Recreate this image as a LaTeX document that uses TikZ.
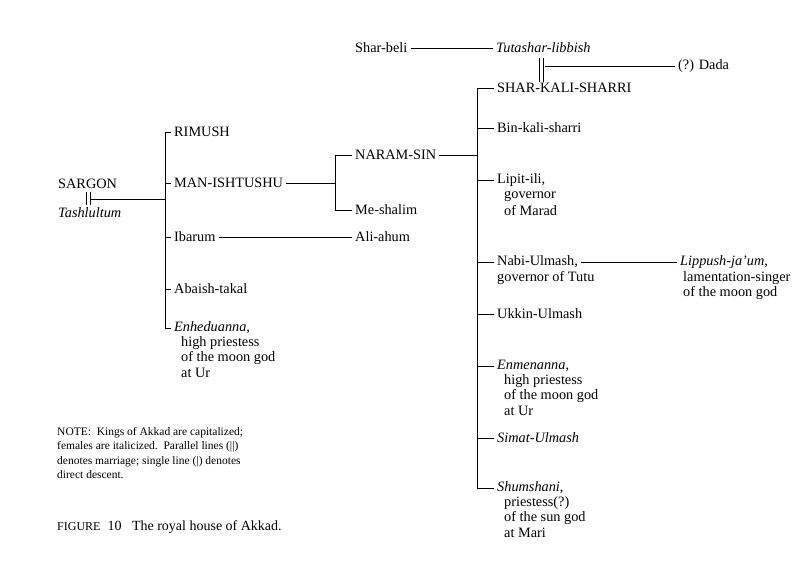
\documentclass[tikz,border=0pt]{standalone}
\usepackage{fontspec}
\setmainfont{Liberation Serif}
\begin{document}
\begin{tikzpicture}[x=1pt,y=-1pt,
  nm/.style={anchor=west,inner xsep=3pt,inner ysep=0pt,font=\fontsize{14.3}{16}\selectfont},
  ln/.style={line width=0.8pt},
  dbl/.style={line width=0.8pt}]
\fill[white] (0,0) rectangle (800,573);
\useasboundingbox (0,0) rectangle (800,573);
% Sargon
\node[nm] (sargon) at (55,184) {SARGON};
\node[nm] (tash) at (55,213) {\itshape Tashlultum};
\draw[dbl] (86,192)--(86,205) (90,192)--(90,205);
\coordinate (sj) at (91,199);
\coordinate (s1) at (165,199);
\draw[ln] (sj)--(s1);
\draw[ln] (165,132)--(165,328);
\node[nm] (rimush) at (171,132) {RIMUSH};
\node[nm] (manish) at (171,183) {MAN-ISHTUSHU};
\node[nm] (ibarum) at (171,237) {Ibarum};
\node[nm] (abaish) at (171,289) {Abaish-takal};
\node[nm] (enhed) at (171,328) {\itshape Enheduanna\upshape,};
\node[nm] (enh2) at (178,343) {high priestess};
\node[nm] (enh3) at (178,358) {of the moon god};
\node[nm] (enh4) at (178,373) {at Ur};
\foreach \n/\y in {rimush/132,manish/183,ibarum/237,abaish/289,enhed/328}
  \draw[ln] (165,\y)--(\n.west);
% Man-ishtushu children
\coordinate (m1) at (335,183);
\draw[ln] (manish.east)--(m1);
\draw[ln] (335,155)--(335,210);
\node[nm] (naram) at (352,155) {NARAM-SIN};
\node[nm] (meshalim) at (352,210) {Me-shalim};
\draw[ln] (335,155)--(naram.west);
\draw[ln] (335,210)--(meshalim.west);
\node[nm] (aliahum) at (352,237) {Ali-ahum};
\draw[ln] (ibarum.east)--(aliahum.west);
% Naram-Sin children
\coordinate (n1) at (477,155);
\draw[ln] (naram.east)--(n1);
\draw[ln] (477,88)--(477,488);
\node[nm] (skh) at (494,88) {SHAR-KALI-SHARRI};
\node[nm] (bin) at (494,128) {Bin-kali-sharri};
\node[nm] (lipit) at (494,180) {Lipit-ili,};
\node[nm] (lip2) at (501,196) {governor};
\node[nm] (lip3) at (501,211) {of Marad};
\node[nm] (nabi) at (494,262) {Nabi-Ulmash,};
\node[nm] (nabi2) at (494,278) {governor of Tutu};
\node[nm] (ukkin) at (494,314) {Ukkin-Ulmash};
\node[nm] (enmen) at (494,366) {\itshape Enmenanna\upshape,};
\node[nm] (enm2) at (501,381) {high priestess};
\node[nm] (enm3) at (501,396) {of the moon god};
\node[nm] (enm4) at (501,411) {at Ur};
\node[nm] (simat) at (494,438) {\itshape Simat-Ulmash};
\node[nm] (shum) at (494,488) {\itshape Shumshani\upshape,};
\node[nm] (shu2) at (501,503) {priestess(?)};
\node[nm] (shu3) at (501,518) {of the sun god};
\node[nm] (shu4) at (501,533) {at Mari};
\foreach \n/\y in {skh/88,bin/128,lipit/180,nabi/262,ukkin/314,enmen/366,simat/438,shum/488}
  \draw[ln] (477,\y)--(\n.west);
% top
\node[nm] (sharbeli) at (352,48) {Shar-beli};
\node[nm] (tutash) at (493,48) {\itshape Tutashar-libbish};
\draw[ln] (sharbeli.east)--(tutash.west);
\draw[dbl] (539,58)--(539,82) (543,58)--(543,82);
\coordinate (tj) at (545,66);
\node[nm] (dada) at (675,66) {(?) Dada};
\draw[ln] (tj)--(dada.west);
\node[nm] (lippush) at (677,262) {\itshape Lippush-ja'um\upshape,};
\node[nm] (lipp2) at (680,278) {lamentation-singer};
\node[nm] (lipp3) at (680,293) {of the moon god};
\draw[ln] (nabi.east)--(lippush.west);
% note
\node[anchor=north west,inner sep=0pt,align=left,font=\fontsize{11.5}{14.5}\selectfont] (note) at (57,427)
 {NOTE:\ \ Kings of Akkad are capitalized;\\females are italicized.\ \ Parallel lines (||)\\denotes marriage; single line (|) denotes\\direct descent.};
\node[anchor=west,inner sep=0pt,font=\fontsize{14}{16}\selectfont] (cap) at (57,527)
 {{\fontsize{12}{14}\selectfont FIGURE}\ \ 10\ \ \ The royal house of Akkad.};
\end{tikzpicture}
\end{document}
